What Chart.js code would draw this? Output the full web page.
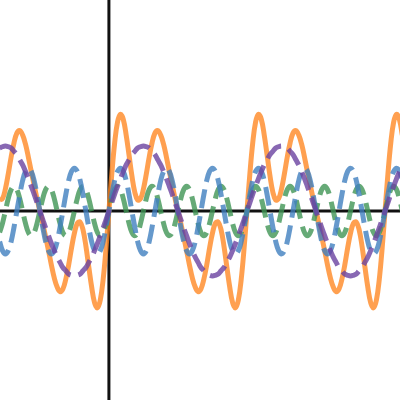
<!DOCTYPE html>
<html>
<head>
<meta charset="utf-8">
<script src="https://cdn.jsdelivr.net/npm/chart.js@4/dist/chart.umd.min.js"></script>
<style>
  html, body { margin: 0; padding: 0; background: #fff; }
  #chart-wrap { width: 400px; height: 400px; }
</style>
</head>
<body>
<div id="chart-wrap"><canvas id="my-chart" width="400" height="400"></canvas></div>
<script>
// phase angle in degrees, one sample every 7.5 deg
const angles = [
  -285, -277.5, -270, -262.5, -255, -247.5, -240, -232.5, -225, -217.5,
  -210, -202.5, -195, -187.5, -180, -172.5, -165, -157.5, -150, -142.5,
  -135, -127.5, -120, -112.5, -105, -97.5, -90, -82.5, -75, -67.5,
  -60, -52.5, -45, -37.5, -30, -22.5, -15, -7.5, 0, 7.5,
  15, 22.5, 30, 37.5, 45, 52.5, 60, 67.5, 75, 82.5,
  90, 97.5, 105, 112.5, 120, 127.5, 135, 142.5, 150, 157.5,
  165, 172.5, 180, 187.5, 195, 202.5, 210, 217.5, 225, 232.5,
  240, 247.5, 255, 262.5, 270, 277.5, 285, 292.5, 300, 307.5,
  315, 322.5, 330, 337.5, 345, 352.5, 360, 367.5, 375, 382.5,
  390, 397.5, 405, 412.5, 420, 427.5, 435, 442.5, 450, 457.5,
  465, 472.5, 480, 487.5, 495, 502.5, 510, 517.5, 525, 532.5,
  540, 547.5, 555, 562.5, 570, 577.5, 585, 592.5, 600, 607.5,
  615, 622.5, 630, 637.5, 645, 652.5, 660, 667.5, 675, 682.5,
  690, 697.5, 705, 712.5, 720, 727.5, 735, 742.5, 750, 757.5,
  765
];

// slow wave (purple)
const wave1 = [
  0.97, 0.99, 1, 0.99, 0.97, 0.92, 0.87, 0.79, 0.71, 0.61,
  0.5, 0.38, 0.26, 0.13, 0, -0.13, -0.26, -0.38, -0.5, -0.61,
  -0.71, -0.79, -0.87, -0.92, -0.97, -0.99, -1, -0.99, -0.97, -0.92,
  -0.87, -0.79, -0.71, -0.61, -0.5, -0.38, -0.26, -0.13,
  0, 0.13, 0.26, 0.38, 0.5, 0.61, 0.71, 0.79, 0.87, 0.92,
  0.97, 0.99, 1, 0.99, 0.97, 0.92, 0.87, 0.79, 0.71, 0.61,
  0.5, 0.38, 0.26, 0.13, 0, -0.13, -0.26, -0.38, -0.5, -0.61,
  -0.71, -0.79, -0.87, -0.92, -0.97, -0.99, -1, -0.99, -0.97, -0.92,
  -0.87, -0.79, -0.71, -0.61, -0.5, -0.38, -0.26, -0.13,
  0, 0.13, 0.26, 0.38, 0.5, 0.61, 0.71, 0.79, 0.87, 0.92,
  0.97, 0.99, 1, 0.99, 0.97, 0.92, 0.87, 0.79, 0.71, 0.61,
  0.5, 0.38, 0.26, 0.13, 0, -0.13, -0.26, -0.38, -0.5, -0.61,
  -0.71, -0.79, -0.87, -0.92, -0.97, -0.99, -1, -0.99, -0.97, -0.92,
  -0.87, -0.79, -0.71, -0.61, -0.5, -0.38, -0.26, -0.13,
  0, 0.13, 0.26, 0.38, 0.5, 0.61, 0.71
];

// three times faster (blue)
const wave3 = [
  -0.47, -0.61, -0.66, -0.61, -0.47, -0.25,
  0, 0.25, 0.47, 0.61, 0.66, 0.61, 0.47, 0.25, 0, -0.25, -0.47, -0.61, -0.66, -0.61, -0.47, -0.25,
  0, 0.25, 0.47, 0.61, 0.66, 0.61, 0.47, 0.25, 0, -0.25, -0.47, -0.61, -0.66, -0.61, -0.47, -0.25,
  0, 0.25, 0.47, 0.61, 0.66, 0.61, 0.47, 0.25, 0, -0.25, -0.47, -0.61, -0.66, -0.61, -0.47, -0.25,
  0, 0.25, 0.47, 0.61, 0.66, 0.61, 0.47, 0.25, 0, -0.25, -0.47, -0.61, -0.66, -0.61, -0.47, -0.25,
  0, 0.25, 0.47, 0.61, 0.66, 0.61, 0.47, 0.25, 0, -0.25, -0.47, -0.61, -0.66, -0.61, -0.47, -0.25,
  0, 0.25, 0.47, 0.61, 0.66, 0.61, 0.47, 0.25, 0, -0.25, -0.47, -0.61, -0.66, -0.61, -0.47, -0.25,
  0, 0.25, 0.47, 0.61, 0.66, 0.61, 0.47, 0.25, 0, -0.25, -0.47, -0.61, -0.66, -0.61, -0.47, -0.25,
  0, 0.25, 0.47, 0.61, 0.66, 0.61, 0.47, 0.25, 0, -0.25, -0.47, -0.61, -0.66, -0.61, -0.47, -0.25,
  0, 0.25, 0.47, 0.61, 0.66, 0.61, 0.47
];

// four times faster (green)
const wave4 = [
  -0.33, -0.19,
  0, 0.19, 0.33, 0.38, 0.33, 0.19, 0, -0.19, -0.33, -0.38, -0.33, -0.19,
  0, 0.19, 0.33, 0.38, 0.33, 0.19, 0, -0.19, -0.33, -0.38, -0.33, -0.19,
  0, 0.19, 0.33, 0.38, 0.33, 0.19, 0, -0.19, -0.33, -0.38, -0.33, -0.19,
  0, 0.19, 0.33, 0.38, 0.33, 0.19, 0, -0.19, -0.33, -0.38, -0.33, -0.19,
  0, 0.19, 0.33, 0.38, 0.33, 0.19, 0, -0.19, -0.33, -0.38, -0.33, -0.19,
  0, 0.19, 0.33, 0.38, 0.33, 0.19, 0, -0.19, -0.33, -0.38, -0.33, -0.19,
  0, 0.19, 0.33, 0.38, 0.33, 0.19, 0, -0.19, -0.33, -0.38, -0.33, -0.19,
  0, 0.19, 0.33, 0.38, 0.33, 0.19, 0, -0.19, -0.33, -0.38, -0.33, -0.19,
  0, 0.19, 0.33, 0.38, 0.33, 0.19, 0, -0.19, -0.33, -0.38, -0.33, -0.19,
  0, 0.19, 0.33, 0.38, 0.33, 0.19, 0, -0.19, -0.33, -0.38, -0.33, -0.19,
  0, 0.19, 0.33, 0.38, 0.33, 0.19, 0, -0.19, -0.33, -0.38, -0.33, -0.19,
  0, 0.19, 0.33, 0.38, 0.33, 0.19, 0
];

// sum of the three (orange)
const total = [
  0.17, 0.19, 0.34, 0.57, 0.83, 1.05, 1.20, 1.24, 1.17, 1.03,
  0.83, 0.61, 0.40, 0.19, 0, -0.19, -0.40, -0.61, -0.83, -1.03,
  -1.17, -1.24, -1.20, -1.05, -0.83, -0.57, -0.34, -0.19, -0.17, -0.29,
  -0.54, -0.86, -1.17, -1.41, -1.49, -1.37, -1.05, -0.57,
  0, 0.57, 1.05, 1.37, 1.49, 1.41, 1.17, 0.86, 0.54, 0.29,
  0.17, 0.19, 0.34, 0.57, 0.83, 1.05, 1.20, 1.24, 1.17, 1.03,
  0.83, 0.61, 0.40, 0.19, 0, -0.19, -0.40, -0.61, -0.83, -1.03,
  -1.17, -1.24, -1.20, -1.05, -0.83, -0.57, -0.34, -0.19, -0.17, -0.29,
  -0.54, -0.86, -1.17, -1.41, -1.49, -1.37, -1.05, -0.57,
  0, 0.57, 1.05, 1.37, 1.49, 1.41, 1.17, 0.86, 0.54, 0.29,
  0.17, 0.19, 0.34, 0.57, 0.83, 1.05, 1.20, 1.24, 1.17, 1.03,
  0.83, 0.61, 0.40, 0.19, 0, -0.19, -0.40, -0.61, -0.83, -1.03,
  -1.17, -1.24, -1.20, -1.05, -0.83, -0.57, -0.34, -0.19, -0.17, -0.29,
  -0.54, -0.86, -1.17, -1.41, -1.49, -1.37, -1.05, -0.57,
  0, 0.57, 1.05, 1.37, 1.49, 1.41, 1.17
];

const toPoints = (ys) => ys.map((y, i) => ({ x: angles[i], y }));

// black axes through the origin, drawn under the curves
const originAxes = {
  id: 'originAxes',
  beforeDatasetsDraw(chart) {
    const { ctx, chartArea, scales } = chart;
    const x0 = scales.x.getPixelForValue(0);
    const y0 = scales.y.getPixelForValue(0);
    ctx.save();
    ctx.strokeStyle = '#111';
    ctx.lineWidth = 3;
    ctx.beginPath();
    ctx.moveTo(x0, chartArea.top);
    ctx.lineTo(x0, chartArea.bottom);
    ctx.moveTo(chartArea.left, y0);
    ctx.lineTo(chartArea.right, y0);
    ctx.stroke();
    ctx.restore();
  },
};

const dashed = { borderWidth: 5, borderDash: [19, 8], borderCapStyle: 'butt' };

const data = {
  datasets: [
    { label: 'sin x', data: toPoints(wave1), borderColor: 'rgba(106, 66, 160, 0.8)', ...dashed },
    { label: 'sin 3x', data: toPoints(wave3), borderColor: 'rgba(64, 128, 191, 0.8)', ...dashed },
    { label: 'sin 4x', data: toPoints(wave4), borderColor: 'rgba(64, 149, 85, 0.8)', ...dashed },
    { label: 'sum', data: toPoints(total), borderColor: 'rgba(255, 136, 36, 0.8)', borderWidth: 5 },
  ],
};

const options = {
  responsive: false,
  animation: false,
  layout: { padding: 0 },
  elements: {
    point: { radius: 0 },
    line: { tension: 0.4, fill: false },
  },
  plugins: {
    legend: { display: false },
    tooltip: { enabled: false },
  },
  scales: {
    x: { type: 'linear', display: false, min: -284, max: 759 },
    y: { type: 'linear', display: false, min: -2.91, max: 3.25 },
  },
};

new Chart(document.getElementById('my-chart'), {
  type: 'line',
  data,
  options,
  plugins: [originAxes],
});
</script>
</body>
</html>
